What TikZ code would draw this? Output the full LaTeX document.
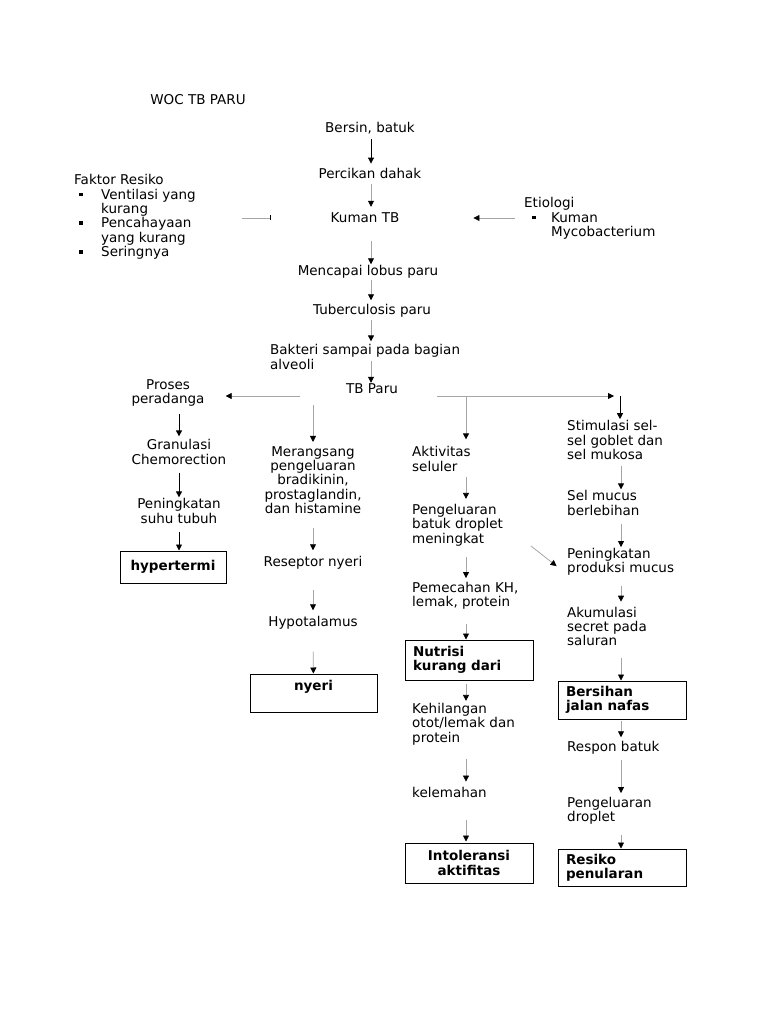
\documentclass[tikz,border=0pt]{standalone}
\usepackage{fontspec}
\setmainfont{DejaVu Sans}
\usepackage{tikz}
\usetikzlibrary{arrows.meta}
\newcommand{\sqbul}{\rule[3pt]{3.5pt}{3.5pt}}

\begin{document}
\begin{tikzpicture}[x=1pt,y=-1pt,
  font=\fontsize{13.5}{14.4}\selectfont,
  txt/.style={inner sep=1pt},
  lefttxt/.style={inner sep=1pt,anchor=west,align=left},
  midtxt/.style={inner sep=1pt,align=center},
  box/.style={draw,line width=1pt,inner xsep=8pt,inner ysep=1pt,font=\fontsize{13.5}{14.4}\selectfont\bfseries},
  flow/.style={color=black!35,line width=0.8pt,-{Triangle[width=6pt,length=6pt,color=black,fill=black]}},
  flowdark/.style={color=black,line width=0.9pt,-{Triangle[width=6pt,length=6pt]}},
  tick/.style={color=black!35,line width=0.8pt,-{Bar[width=5pt,color=black]}}]
  \fill[white] (0,0) rectangle (768,1024);
  \useasboundingbox (0,0) rectangle (768,1024);

  \node[txt] (title) at (198,100) {WOC TB PARU};

  % main column
  \node[txt] (bersin) at (370,128) {Bersin, batuk};
  \node[txt] (percikan) at (370,173) {Percikan dahak};
  \node[txt] (kuman) at (365,218) {Kuman TB};
  \node[txt] (mencapai) at (368,272) {Mencapai lobus paru};
  \node[txt] (tbc) at (372,311) {Tuberculosis paru};
  \node[lefttxt] (bakteri) at (269,357) {Bakteri sampai pada bagian\\alveoli};
  \node[txt] (tbparu) at (372,389) {TB Paru};

  \node[lefttxt] (faktor) at (73,217) {Faktor Resiko\\
    \hspace*{5pt}\makebox[22pt][l]{\sqbul}Ventilasi yang\\
    \hspace*{27pt}kurang\\
    \hspace*{5pt}\makebox[22pt][l]{\sqbul}Pencahayaan\\
    \hspace*{27pt}yang kurang\\
    \hspace*{5pt}\makebox[22pt][l]{\sqbul}Seringnya};
  \node[lefttxt] (etiologi) at (523,218.5) {Etiologi\\
    \hspace*{8pt}\makebox[19pt][l]{\sqbul}Kuman\\
    \hspace*{27pt}Mycobacterium};

  % left columns
  \node[midtxt] (proses) at (168,393) {Proses\\peradanga};
  \node[midtxt] (granulasi) at (179,452) {Granulasi\\Chemorection};
  \node[midtxt] (suhu) at (179,511) {Peningkatan\\suhu tubuh};
  \node[box,minimum width=106pt,minimum height=32pt] (hyper) at (173,567) {hypertermi};

  \node[midtxt] (merangsang) at (313,480) {Merangsang\\pengeluaran\\bradikinin,\\prostaglandin,\\dan histamine};
  \node[txt] (reseptor) at (313,563) {Reseptor nyeri};
  \node[txt] (hypot) at (313,623) {Hypotalamus};
  \node[box,minimum width=127pt,minimum height=38pt,align=center] (nyeri) at (313.5,693) {nyeri\\\mbox{}};

  % right columns
  \node[lefttxt] (aktivitas) at (411,459) {Aktivitas\\seluler};
  \node[lefttxt] (pengb) at (411,525) {Pengeluaran\\batuk droplet\\meningkat};
  \node[lefttxt] (pemecahan) at (411,596) {Pemecahan KH,\\lemak, protein};
  \node[box,minimum height=40pt,text width=112pt,align=left] (nutrisi) at (469,660) {Nutrisi\\kurang dari};
  \node[lefttxt] (kehilangan) at (411,724) {Kehilangan\\otot/lemak dan\\protein};
  \node[lefttxt] (kelemahan) at (411,792) {kelemahan};
  \node[box,minimum height=40pt,text width=112pt,align=center] (intol) at (469,863) {Intoleransi\\aktifitas};

  \node[lefttxt] (stim) at (566,440) {Stimulasi sel-\\sel goblet dan\\sel mukosa};
  \node[lefttxt] (selmucus) at (566,503) {Sel mucus\\berlebihan};
  \node[lefttxt] (pmucus) at (566,562) {Peningkatan\\produksi mucus};
  \node[lefttxt] (akumulasi) at (566,626.5) {Akumulasi\\secret pada\\saluran};
  \node[box,minimum height=38pt,text width=112pt,align=left] (bersihan) at (622,700) {Bersihan\\jalan nafas};
  \node[lefttxt] (respon) at (566,748) {Respon batuk};
  \node[lefttxt] (pdroplet) at (566,811) {Pengeluaran\\droplet};
  \node[box,minimum height=37pt,text width=112pt,align=left] (resiko) at (622,867.5) {Resiko\\penularan};

  \coordinate (colA) at (371,0);
  \coordinate (colC) at (466,0);
  \coordinate (colD) at (621,0);
  \coordinate (brL) at (300,396);
  \coordinate (brR) at (437,396);
  \coordinate (brRc) at (620,396);
  \coordinate (brM1) at (313,405);
  \coordinate (brM2) at (466,396);

  \path[flowdark]
    (bersin.south -| colA) edge[shorten <=4pt,shorten >=3pt] (percikan.north -| colA)
    (proses.south -| granulasi) edge[shorten <=6pt,shorten >=2pt] (granulasi.north)
    (granulasi) edge[shorten <=7pt] (suhu)
    (suhu.south) edge[shorten <=7pt] (suhu.south |- hyper.north)
    (brRc) edge (brRc |- stim.north);
  \path[flow]
    (percikan.south -| colA) edge[shorten <=5pt,shorten >=5pt] (kuman.north -| colA)
    (kuman.south -| colA) edge[shorten <=17pt] (mencapai.north -| colA)
    (mencapai.south -| colA) edge[shorten >=3pt] (tbc.north -| colA)
    (tbc.south -| colA) edge[shorten <=1pt,shorten >=2pt] (bakteri.north -| colA)
    (bakteri.south -| colA) edge[shorten <=-10pt] (tbparu.north -| colA)
    (etiologi.west |- kuman) edge[shorten <=8pt,shorten >=73pt] (kuman.east)
    (brL) edge[shorten >=20pt] (brL -| proses.east)
    (brR) edge[shorten >=6pt] (brRc)
    (brM1) edge[shorten >=3pt] (merangsang.north)
    (merangsang) edge[shorten <=13pt,shorten >=5pt] (reseptor)
    (reseptor) edge[shorten <=19pt,shorten >=5pt] (hypot)
    (hypot) edge[shorten <=21pt] (nyeri)
    (brM2) edge[shorten >=6pt] (brM2 |- aktivitas.north)
    (aktivitas.south -| colC) edge[shorten <=4pt,shorten >=4pt] (pengb.north -| colC)
    (pengb.south -| colC) edge[shorten <=10pt,shorten >=3pt] (pemecahan.north -| colC)
    (pemecahan.south -| colC) edge[shorten <=13pt] (nutrisi.north -| colC)
    (nutrisi.south -| colC) edge[shorten <=3pt,shorten >=1pt] (kehilangan.north -| colC)
    (kehilangan.south -| colC) edge[shorten <=13pt,shorten >=4pt] (kelemahan.north -| colC)
    (kelemahan.south -| colC) edge[shorten <=22pt,shorten >=1pt] (intol.north -| colC)
    (pengb.east) edge[shorten <=34pt,shorten >=12pt] ([yshift=-11.5pt]pmucus.west)
    (stim.south -| colD) edge[shorten <=5pt] (selmucus.north -| colD)
    (selmucus.south -| colD) edge[shorten <=7pt] (pmucus.north -| colD)
    (pmucus.south -| colD) edge[shorten <=9pt,shorten >=4pt] (akumulasi.north -| colD)
    (akumulasi.south -| colD) edge[shorten <=11pt] (bersihan.north -| colD)
    (bersihan.south -| colD) edge[shorten <=1pt,shorten >=3pt] (respon.north -| colD)
    (respon.south -| colD) edge[shorten <=4pt,shorten >=3pt] (pdroplet.north -| colD)
    (pdroplet.south -| colD) edge[shorten <=9pt] (resiko.north -| colD);
  \path[tick]
    (faktor.east |- kuman) edge[shorten <=45pt,shorten >=59pt] (kuman.west);
\end{tikzpicture}
\end{document}
